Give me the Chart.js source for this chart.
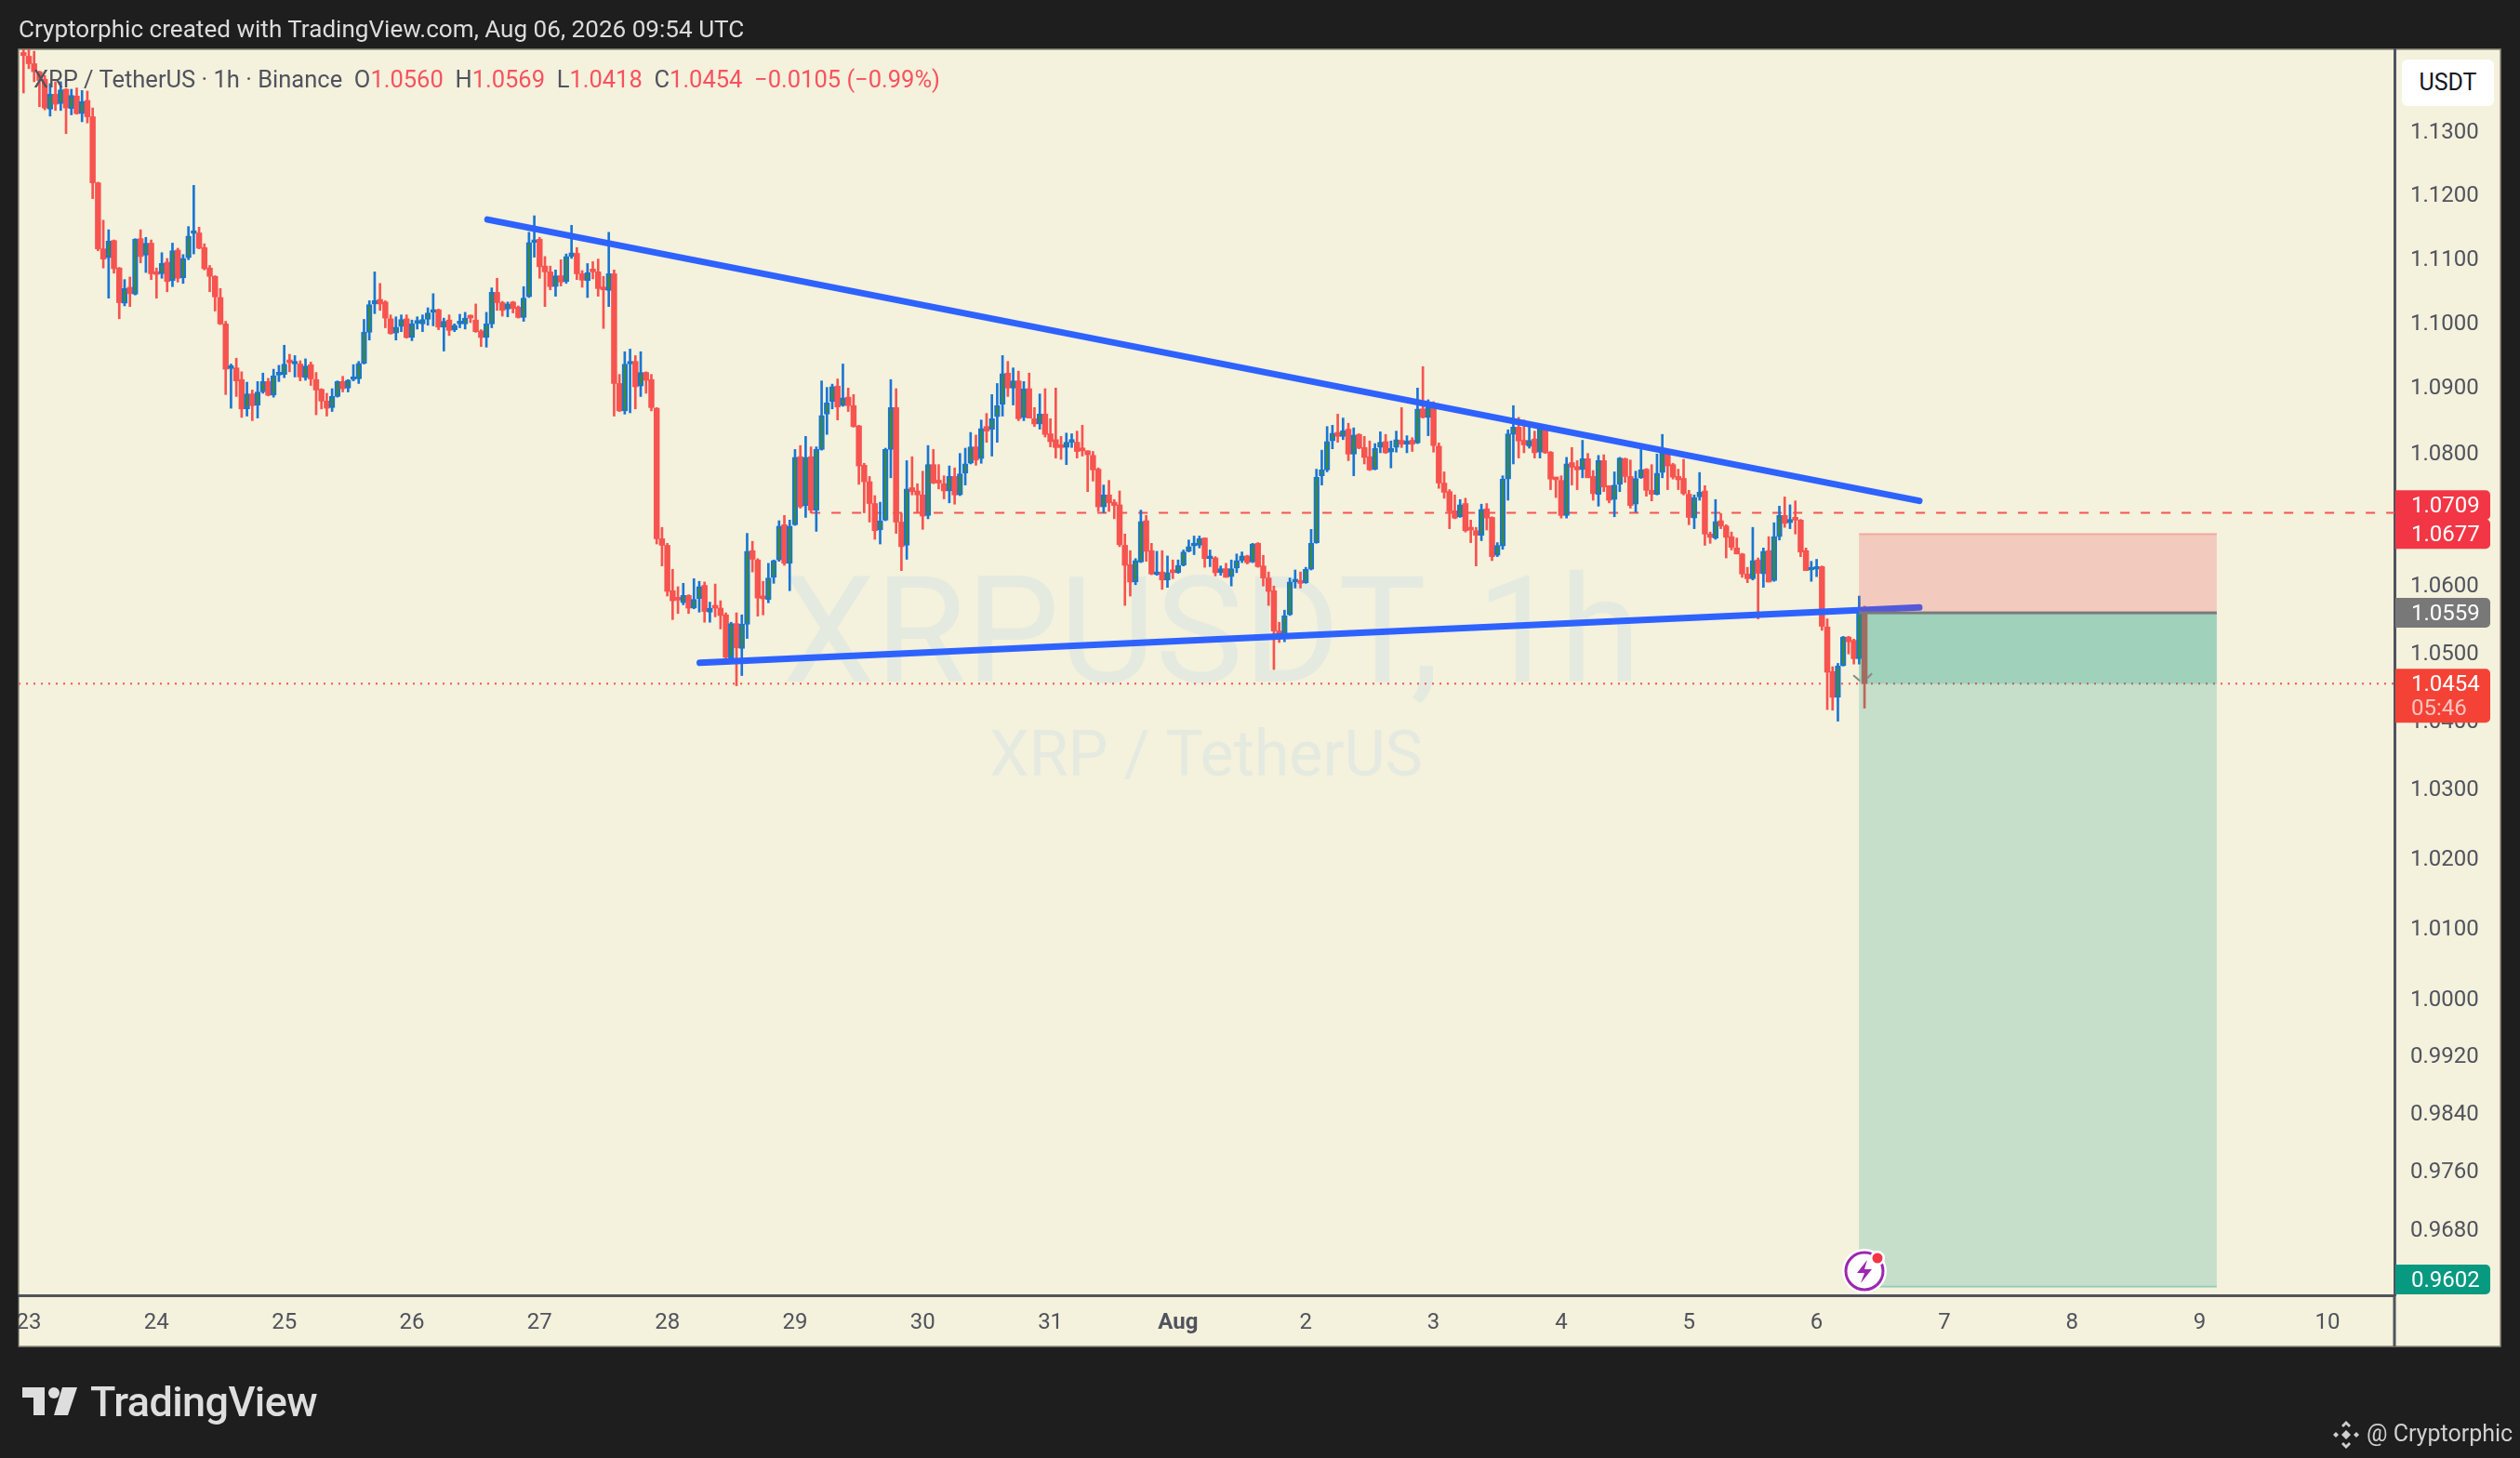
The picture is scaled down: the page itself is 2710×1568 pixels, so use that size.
<!DOCTYPE html>
<html>
<head>
<meta charset="utf-8">
<title>XRPUSDT 1h</title>
<script src="https://cdn.jsdelivr.net/npm/chart.js@4"></script>
<style>
  html, body { margin: 0; padding: 0; background: #1e1e1e; overflow: hidden; }
  #wrap { position: relative; width: 2710px; height: 1568px; font-family: Roboto, sans-serif; }
  #chart { position: absolute; left: 0; top: 0; }
  .txt { position: absolute; white-space: pre; line-height: 1; }
  #header { left: 20px; top: 18px; font-size: 26.1px; color: #dcdcdc; }
  #legend { left: 36px; top: 73px; font-size: 25.5px; color: #50535e; }
  #legend b { font-weight: 400; color: #f7525f; }
  #usdt { left: 2583px; top: 64px; width: 99px; height: 50px; line-height: 50px; text-align: center;
          background: #fff; border-radius: 6px; font-size: 25px; color: #131722; }
  #logotext { left: 97px; top: 1485px; font-size: 45px; font-weight: 500; color: #dedede; letter-spacing: -0.6px; }
  #author { left: 2545px; top: 1529px; font-size: 25px; color: #cfcfcf; }
  svg { position: absolute; }
</style>
</head>
<body>
<div id="wrap">
  <canvas id="chart" width="2710" height="1568"></canvas>
  <div class="txt" id="header">Cryptorphic created with TradingView.com, Aug 06, 2026 09:54 UTC</div>
  <div class="txt" id="legend">XRP / TetherUS · 1h · Binance  O<b>1.0560</b>  H<b>1.0569</b>  L<b>1.0418</b>  C<b>1.0454</b>  <b>−0.0105 (−0.99%)</b></div>
  <div class="txt" id="usdt">USDT</div>
  <!-- 트레이딩뷰 로고 -->
  <svg style="left:24px;top:1492px" width="60" height="30" viewBox="0 0 60 30">
    <path d="M0 0H24V30H12V11H0Z" fill="#dedede"/>
    <circle cx="34" cy="6" r="6" fill="#dedede"/>
    <path d="M43 0H59L49 30H34Z" fill="#dedede"/>
  </svg>
  <div class="txt" id="logotext">TradingView</div>
  <!-- 바이낸스 아이콘 -->
  <svg style="left:2509px;top:1528px" width="28" height="30" viewBox="0 0 28 30" fill="#cfcfcf">
    <path d="M14 0l5 5-2 2-3-3-3 3-2-2z"/><path d="M14 30l5-5-2-2-3 3-3-3-2 2z"/>
    <path d="M0 15l3-3 3 3-3 3z"/><path d="M22 15l3-3 3 3-3 3z"/><path d="M14 10l5 5-5 5-5-5z"/>
  </svg>
  <div class="txt" id="author">@ Cryptorphic</div>
  <!-- 번개 아이콘 -->
  <svg style="left:1980px;top:1340px" width="52" height="54" viewBox="0 0 52 54">
    <circle cx="25" cy="27" r="24" fill="#fff"/>
    <circle cx="25" cy="27" r="20" fill="#fff" stroke="#9c27b0" stroke-width="3"/>
    <path d="M28 15L17 29H25L21 40L33 25H25Z" fill="#9c27b0"/>
    <circle cx="39" cy="13" r="8" fill="#fff"/>
    <circle cx="39" cy="13" r="5.5" fill="#f23645"/>
  </svg>
</div>

<script>
// 1시간봉 데이터: 7월 23일 00시를 0으로 한 시간 인덱스 기준
const firstHour = -1;

const opens = [
  1.1427,1.1421,1.1409,1.1396,1.1384,1.1336,1.1360,1.1345,1.1368,1.1337,1.1357,
  1.1329,1.1350,1.1324,1.1219,1.1115,1.1101,1.1128,1.1085,1.1030,1.1055,
  1.1044,1.1131,1.1105,1.1124,1.1078,1.1076,1.1094,1.1065,1.1113,1.1070,
  1.1101,1.1139,1.1140,1.1117,1.1085,1.1072,1.1039,1.0998,1.0929,1.0930,
  1.0912,1.0867,1.0890,1.0873,1.0893,1.0909,1.0888,1.0919,1.0920,1.0940,
  1.0936,1.0936,1.0915,1.0935,1.0912,1.0897,1.0879,1.0869,1.0886,1.0909,
  1.0899,1.0912,1.0913,1.0937,1.0985,1.1029,1.1036,1.1032,1.1006,1.0984,
  1.0994,1.1006,1.0977,1.0999,1.0998,1.1005,1.1016,1.1020,1.0993,1.1004,
  1.0989,1.0998,1.0998,1.1008,1.1004,1.0987,1.0977,1.0998,1.1047,1.1031,
  1.1021,1.1032,1.1024,1.1008,1.1040,1.1125,1.1130,1.1088,1.1079,1.1056,
  1.1073,1.1064,1.1103,1.1108,1.1076,1.1065,1.1080,1.1079,1.1053,1.1050,
  1.1076,1.0906,1.0864,1.0936,1.0940,1.0902,1.0923,1.0912,1.0868,1.0670,
  1.0660,1.0592,1.0579,1.0574,1.0585,1.0566,1.0580,1.0600,1.0560,1.0568,
  1.0566,1.0556,1.0492,1.0543,1.0506,1.0542,1.0652,1.0638,1.0582,1.0579,
  1.0612,1.0638,1.0691,1.0633,1.0691,1.0794,1.0720,1.0794,1.0713,1.0805,
  1.0859,1.0878,1.0902,1.0872,1.0885,1.0872,1.0841,1.0781,1.0756,1.0723,
  1.0683,1.0698,1.0805,1.0869,1.0695,1.0660,1.0747,1.0742,1.0736,1.0705,
  1.0782,1.0756,1.0753,1.0742,1.0764,1.0736,1.0769,1.0784,1.0809,1.0791,
  1.0840,1.0836,1.0855,1.0874,1.0922,1.0899,1.0910,1.0854,1.0898,1.0852,
  1.0844,1.0859,1.0829,1.0820,1.0809,1.0808,1.0816,1.0816,1.0804,1.0803,
  1.0796,1.0775,1.0718,1.0736,1.0725,1.0721,1.0660,1.0631,1.0605,1.0635,
  1.0697,1.0652,1.0616,1.0620,1.0608,1.0621,1.0619,1.0630,1.0651,1.0659,
  1.0660,1.0671,1.0640,1.0641,1.0619,1.0625,1.0613,1.0626,1.0637,1.0644,
  1.0635,1.0663,1.0629,1.0611,1.0592,1.0532,1.0523,1.0556,1.0605,1.0607,
  1.0604,1.0624,1.0664,1.0765,1.0774,1.0818,1.0831,1.0825,1.0836,1.0798,
  1.0828,1.0808,1.0794,1.0775,1.0808,1.0817,1.0801,1.0808,1.0819,1.0813,
  1.0819,1.0815,1.0867,1.0854,1.0870,1.0810,1.0754,1.0741,1.0712,1.0703,
  1.0723,1.0684,1.0682,1.0675,1.0715,1.0702,1.0645,1.0659,1.0760,1.0828,
  1.0839,1.0819,1.0810,1.0821,1.0801,1.0839,1.0801,1.0760,1.0758,1.0705,
  1.0785,1.0779,1.0775,1.0791,1.0764,1.0737,1.0788,1.0750,1.0729,1.0752,
  1.0791,1.0764,1.0722,1.0762,1.0775,1.0743,1.0737,1.0770,1.0801,1.0782,
  1.0764,1.0761,1.0737,1.0701,1.0733,1.0742,1.0677,1.0671,1.0697,1.0689,
  1.0673,1.0656,1.0647,1.0617,1.0610,1.0638,1.0617,1.0652,1.0607,1.0673,
  1.0705,1.0694,1.0699,1.0698,1.0652,1.0623,1.0624,1.0628,1.0538,1.0472,
  1.0434,1.0481,1.0523,1.0518,1.0491,1.0560
];
const highs = [
  1.1442,1.1437,1.1429,1.1397,1.1390,1.1377,1.1380,1.1380,1.1369,1.1368,1.1370,
  1.1366,1.1365,1.1338,1.1220,1.1160,1.1145,1.1129,1.1086,1.1067,1.1071,
  1.1131,1.1145,1.1133,1.1129,1.1085,1.1109,1.1100,1.1124,1.1116,1.1106,
  1.1150,1.1215,1.1149,1.1123,1.1089,1.1073,1.1053,1.1002,1.0936,1.0945,
  1.0924,1.0908,1.0896,1.0909,1.0922,1.0914,1.0928,1.0934,1.0965,1.0951,
  1.0949,1.0941,1.0944,1.0939,1.0923,1.0898,1.0891,1.0898,1.0910,1.0917,
  1.0912,1.0935,1.0940,1.1005,1.1034,1.1079,1.1061,1.1034,1.1012,1.1009,
  1.1012,1.1012,1.1004,1.1009,1.1012,1.1023,1.1045,1.1021,1.1007,1.1012,
  1.0998,1.1013,1.1016,1.1012,1.1029,1.0989,1.1016,1.1054,1.1069,1.1033,
  1.1032,1.1033,1.1026,1.1056,1.1141,1.1167,1.1133,1.1103,1.1088,1.1082,
  1.1098,1.1107,1.1152,1.1117,1.1081,1.1092,1.1095,1.1099,1.1072,1.1141,
  1.1082,1.0920,1.0955,1.0959,1.0949,1.0955,1.0924,1.0920,1.0869,1.0687,
  1.0663,1.0624,1.0598,1.0603,1.0586,1.0610,1.0606,1.0605,1.0575,1.0602,
  1.0577,1.0559,1.0545,1.0559,1.0556,1.0678,1.0666,1.0640,1.0606,1.0633,
  1.0638,1.0697,1.0705,1.0698,1.0805,1.0811,1.0825,1.0809,1.0809,1.0910,
  1.0900,1.0905,1.0913,1.0936,1.0899,1.0889,1.0842,1.0784,1.0764,1.0735,
  1.0725,1.0807,1.0912,1.0898,1.0708,1.0788,1.0794,1.0753,1.0772,1.0811,
  1.0805,1.0782,1.0765,1.0780,1.0777,1.0799,1.0807,1.0831,1.0827,1.0850,
  1.0860,1.0889,1.0906,1.0949,1.0940,1.0930,1.0925,1.0909,1.0922,1.0869,
  1.0890,1.0898,1.0852,1.0899,1.0825,1.0830,1.0829,1.0833,1.0842,1.0803,
  1.0802,1.0777,1.0751,1.0758,1.0729,1.0742,1.0677,1.0652,1.0640,1.0713,
  1.0705,1.0663,1.0651,1.0652,1.0644,1.0638,1.0638,1.0653,1.0668,1.0674,
  1.0674,1.0671,1.0653,1.0643,1.0629,1.0633,1.0638,1.0647,1.0650,1.0645,
  1.0663,1.0664,1.0645,1.0620,1.0599,1.0545,1.0563,1.0611,1.0623,1.0620,
  1.0627,1.0684,1.0775,1.0804,1.0840,1.0842,1.0859,1.0853,1.0845,1.0838,
  1.0829,1.0825,1.0818,1.0814,1.0832,1.0828,1.0818,1.0833,1.0869,1.0826,
  1.0823,1.0899,1.0932,1.0881,1.0878,1.0815,1.0771,1.0744,1.0736,1.0729,
  1.0731,1.0698,1.0687,1.0722,1.0723,1.0703,1.0664,1.0765,1.0835,1.0872,
  1.0854,1.0850,1.0844,1.0833,1.0841,1.0842,1.0802,1.0761,1.0765,1.0793,
  1.0808,1.0788,1.0819,1.0799,1.0773,1.0796,1.0797,1.0750,1.0771,1.0793,
  1.0792,1.0789,1.0772,1.0805,1.0776,1.0782,1.0798,1.0828,1.0803,1.0784,
  1.0775,1.0790,1.0743,1.0736,1.0770,1.0750,1.0680,1.0729,1.0708,1.0691,
  1.0680,1.0671,1.0648,1.0627,1.0687,1.0641,1.0656,1.0673,1.0694,1.0719,
  1.0733,1.0721,1.0727,1.0699,1.0656,1.0636,1.0639,1.0629,1.0550,1.0479,
  1.0484,1.0524,1.0524,1.0520,1.0584,1.0569
];
const lows = [
  1.1362,1.1401,1.1380,1.1340,1.1335,1.1325,1.1334,1.1334,1.1297,1.1327,1.1328,
  1.1316,1.1314,1.1194,1.1112,1.1085,1.1038,1.1077,1.1006,1.1026,1.1025,
  1.1043,1.1093,1.1078,1.1067,1.1038,1.1069,1.1048,1.1056,1.1063,1.1061,
  1.1098,1.1107,1.1115,1.1082,1.1048,1.1018,1.0997,1.0889,1.0868,1.0886,
  1.0854,1.0856,1.0849,1.0853,1.0891,1.0887,1.0885,1.0909,1.0915,1.0924,
  1.0916,1.0910,1.0911,1.0903,1.0858,1.0867,1.0856,1.0863,1.0885,1.0893,
  1.0893,1.0910,1.0906,1.0936,1.0973,1.1014,1.1019,1.0992,1.0982,1.0973,
  1.0986,1.0976,1.0972,1.0990,1.0986,1.0996,1.0995,1.0989,1.0956,1.0980,
  1.0986,1.0992,1.0990,1.1000,1.0985,1.0963,1.0962,1.0992,1.1019,1.1010,
  1.1009,1.1015,1.1007,1.1002,1.1039,1.1102,1.1069,1.1025,1.1051,1.1041,
  1.1057,1.1061,1.1100,1.1067,1.1055,1.1039,1.1068,1.1041,1.0991,1.1025,
  1.0856,1.0863,1.0859,1.0861,1.0867,1.0886,1.0891,1.0864,1.0662,1.0629,
  1.0584,1.0549,1.0558,1.0571,1.0558,1.0565,1.0560,1.0545,1.0545,1.0553,
  1.0535,1.0486,1.0490,1.0451,1.0466,1.0521,1.0620,1.0554,1.0556,1.0574,
  1.0603,1.0636,1.0630,1.0592,1.0690,1.0716,1.0702,1.0709,1.0681,1.0804,
  1.0828,1.0867,1.0850,1.0871,1.0863,1.0839,1.0752,1.0709,1.0695,1.0669,
  1.0662,1.0697,1.0762,1.0678,1.0622,1.0639,1.0736,1.0709,1.0684,1.0700,
  1.0753,1.0745,1.0730,1.0724,1.0722,1.0735,1.0751,1.0783,1.0781,1.0784,
  1.0816,1.0795,1.0816,1.0856,1.0886,1.0873,1.0849,1.0849,1.0853,1.0840,
  1.0836,1.0824,1.0809,1.0792,1.0790,1.0782,1.0808,1.0792,1.0795,1.0741,
  1.0757,1.0711,1.0709,1.0711,1.0700,1.0658,1.0570,1.0584,1.0601,1.0634,
  1.0636,1.0616,1.0615,1.0594,1.0597,1.0610,1.0618,1.0629,1.0650,1.0646,
  1.0656,1.0627,1.0628,1.0614,1.0615,1.0612,1.0599,1.0619,1.0634,1.0632,
  1.0634,1.0627,1.0599,1.0570,1.0475,1.0515,1.0516,1.0555,1.0596,1.0596,
  1.0603,1.0623,1.0663,1.0751,1.0771,1.0806,1.0816,1.0820,1.0788,1.0765,
  1.0806,1.0783,1.0773,1.0774,1.0800,1.0799,1.0777,1.0801,1.0808,1.0800,
  1.0802,1.0814,1.0853,1.0826,1.0801,1.0746,1.0731,1.0685,1.0700,1.0702,
  1.0680,1.0664,1.0629,1.0667,1.0683,1.0637,1.0643,1.0654,1.0728,1.0783,
  1.0792,1.0800,1.0807,1.0792,1.0792,1.0799,1.0744,1.0732,1.0701,1.0701,
  1.0751,1.0744,1.0762,1.0762,1.0728,1.0719,1.0741,1.0724,1.0703,1.0741,
  1.0755,1.0716,1.0710,1.0761,1.0734,1.0727,1.0736,1.0762,1.0744,1.0760,
  1.0744,1.0736,1.0691,1.0685,1.0728,1.0660,1.0663,1.0669,1.0685,1.0641,
  1.0653,1.0647,1.0612,1.0604,1.0608,1.0550,1.0597,1.0605,1.0606,1.0668,
  1.0687,1.0685,1.0677,1.0643,1.0622,1.0606,1.0613,1.0533,1.0416,1.0415,
  1.0399,1.0480,1.0498,1.0483,1.0483,1.0418
];
const closes = [
  1.1422,1.1409,1.1396,1.1382,1.1338,1.1360,1.1344,1.1367,1.1338,1.1358,1.1329,
  1.1348,1.1324,1.1219,1.1115,1.1099,1.1127,1.1084,1.1031,1.1053,1.1045,
  1.1130,1.1103,1.1124,1.1076,1.1075,1.1092,1.1064,1.1112,1.1069,1.1100,
  1.1135,1.1140,1.1116,1.1084,1.1072,1.1040,1.0998,1.0928,1.0930,1.0910,
  1.0867,1.0890,1.0872,1.0893,1.0909,1.0888,1.0918,1.0920,1.0936,1.0938,
  1.0937,1.0916,1.0933,1.0913,1.0896,1.0879,1.0868,1.0886,1.0909,1.0898,
  1.0911,1.0915,1.0937,1.0985,1.1028,1.1034,1.1029,1.1007,1.0983,1.0993,
  1.1005,1.0977,1.0998,1.1000,1.1005,1.1015,1.1020,1.0993,1.1002,1.0988,
  1.0996,1.1000,1.1007,1.1007,1.0986,1.0977,1.0998,1.1047,1.1031,1.1019,
  1.1029,1.1022,1.1008,1.1038,1.1125,1.1129,1.1087,1.1079,1.1056,1.1073,
  1.1063,1.1103,1.1109,1.1076,1.1066,1.1078,1.1079,1.1053,1.1051,1.1076,
  1.0906,1.0864,1.0936,1.0939,1.0901,1.0923,1.0911,1.0869,1.0670,1.0660,
  1.0591,1.0577,1.0578,1.0585,1.0566,1.0579,1.0598,1.0561,1.0566,1.0566,
  1.0555,1.0493,1.0543,1.0507,1.0542,1.0651,1.0639,1.0581,1.0580,1.0611,
  1.0637,1.0689,1.0633,1.0689,1.0793,1.0718,1.0793,1.0713,1.0805,1.0857,
  1.0876,1.0901,1.0870,1.0884,1.0872,1.0840,1.0780,1.0756,1.0723,1.0682,
  1.0697,1.0805,1.0869,1.0695,1.0658,1.0745,1.0741,1.0736,1.0704,1.0782,
  1.0754,1.0754,1.0742,1.0764,1.0736,1.0768,1.0783,1.0809,1.0789,1.0837,
  1.0833,1.0852,1.0872,1.0921,1.0899,1.0910,1.0852,1.0898,1.0853,1.0844,
  1.0859,1.0828,1.0817,1.0808,1.0808,1.0816,1.0818,1.0802,1.0803,1.0797,
  1.0774,1.0718,1.0736,1.0724,1.0720,1.0661,1.0630,1.0605,1.0637,1.0696,
  1.0651,1.0617,1.0619,1.0608,1.0619,1.0619,1.0630,1.0650,1.0658,1.0660,
  1.0670,1.0640,1.0642,1.0619,1.0625,1.0612,1.0625,1.0637,1.0644,1.0634,
  1.0662,1.0628,1.0611,1.0591,1.0532,1.0523,1.0555,1.0605,1.0607,1.0603,
  1.0624,1.0663,1.0763,1.0774,1.0817,1.0830,1.0825,1.0834,1.0798,1.0827,
  1.0807,1.0793,1.0774,1.0807,1.0816,1.0800,1.0807,1.0820,1.0813,1.0818,
  1.0813,1.0867,1.0854,1.0869,1.0811,1.0754,1.0740,1.0711,1.0701,1.0721,
  1.0682,1.0683,1.0675,1.0714,1.0701,1.0643,1.0660,1.0760,1.0829,1.0839,
  1.0818,1.0812,1.0819,1.0800,1.0838,1.0800,1.0760,1.0759,1.0705,1.0783,
  1.0778,1.0774,1.0791,1.0762,1.0738,1.0788,1.0748,1.0728,1.0751,1.0792,
  1.0764,1.0720,1.0761,1.0774,1.0743,1.0737,1.0769,1.0800,1.0780,1.0763,
  1.0759,1.0738,1.0702,1.0732,1.0740,1.0677,1.0672,1.0696,1.0689,1.0672,
  1.0657,1.0647,1.0617,1.0610,1.0637,1.0618,1.0651,1.0605,1.0673,1.0705,
  1.0693,1.0699,1.0698,1.0650,1.0622,1.0624,1.0626,1.0539,1.0471,1.0434,
  1.0480,1.0523,1.0516,1.0491,1.0559,1.0454
];

// 축 눈금
const dayHours = [0,24,48,72,96,120,144,168,192,216,240,264,288,312,336,360,384,408,432];
const dayLabels = ['23','24','25','26','27','28','29','30','31','Aug','2','3','4','5','6','7','8','9','10'];
const priceTicks = [1.13,1.12,1.11,1.10,1.09,1.08,1.06,1.05,1.04,1.03,1.02,1.01,1.00,0.992,0.984,0.976,0.968];

// 추세선, 수평선 (시간 인덱스, 가격)
const upperTrendHours = [86.2, 355.3];
const upperTrendPrices = [1.1161, 1.0727];
const lowerTrendHours = [126.1, 355.3];
const lowerTrendPrices = [1.0485, 1.0567];
const dashedPrice = 1.0709;
const dashedStartHour = 147.0;
const lastPrice = 1.0454;

// 포지션 박스
const positionHours = [343.97, 411.2];
const stopPrice = 1.0677;
const entryPrice = 1.0559;
const targetPrice = 0.9602;

// 가격 태그
const tagPrices = [1.0709, 1.0677, 1.0559, 0.9602];
const tagTexts = ['1.0709', '1.0677', '1.0559', '0.9602'];
const countdown = '05:46';

const X_MIN = -1.92, X_MAX = 444.6;
const Y_MIN = 0.95904, Y_MAX = 1.14322;
const UP_BORDER = '#1976d2', UP_FILL = '#3c8a3a', DOWN = '#f7534f';
const DARK = '#1e1e1e', CREAM = '#f4f1dc', AXIS = '#50535e';

const isUp = i => closes[i] >= opens[i];

const wickData = highs.map((h, i) => ({ x: firstHour + i, y: [lows[i], h] }));
const bodyData = opens.map((o, i) => ({ x: firstHour + i, y: [Math.min(o, closes[i]), Math.max(o, closes[i])] }));

const toPoints = (xs, ys) => xs.map((x, i) => ({ x: x, y: ys[i] }));

// 배경, 워터마크, 포지션 박스, 가격 태그
const tvPlugin = {
  id: 'tv',
  beforeDraw(chart) {
    const c = chart.ctx;
    c.save();
    c.fillStyle = DARK;
    c.fillRect(0, 0, chart.width, chart.height);
    c.fillStyle = CREAM;
    c.fillRect(20, 53, 2669, 1395);
    c.strokeStyle = '#8a8a7c';
    c.lineWidth = 1.5;
    c.strokeRect(20, 53, 2669, 1395);
    c.restore();
  },
  beforeDatasetsDraw(chart) {
    const c = chart.ctx;
    c.save();
    c.textAlign = 'center';
    c.textBaseline = 'alphabetic';
    c.fillStyle = '#e4eae0';
    c.font = '400 159px Roboto';
    c.fillText('XRPUSDT, 1h', 1303, 733);
    c.font = '400 68px Roboto';
    c.fillText('XRP / TetherUS', 1297, 834);
    c.restore();
  },
  afterDatasetsDraw(chart) {
    const c = chart.ctx, xs = chart.scales.x, ys = chart.scales.y;
    const l = xs.getPixelForValue(positionHours[0]), r = xs.getPixelForValue(positionHours[1]);
    const top = ys.getPixelForValue(stopPrice), entry = ys.getPixelForValue(entryPrice);
    const last = ys.getPixelForValue(lastPrice), bottom = ys.getPixelForValue(targetPrice);
    c.save();
    c.fillStyle = 'rgba(242,54,69,0.2)';
    c.fillRect(l, top, r - l, entry - top);
    c.fillStyle = 'rgba(8,153,129,0.2)';
    c.fillRect(l, entry, r - l, bottom - entry);
    c.fillRect(l, entry, r - l, last - entry);
    c.fillStyle = 'rgba(242,54,69,0.3)';
    c.fillRect(l, top - 1, r - l, 2);
    c.fillStyle = 'rgba(8,153,129,0.3)';
    c.fillRect(l, bottom - 1, r - l, 2);
    c.fillStyle = '#787b7b';
    c.fillRect(l, entry - 1.5, r - l, 3);
    // 마지막 봉 위 화살표 표시
    const ax = xs.getPixelForValue(345);
    c.strokeStyle = '#888';
    c.lineWidth = 2;
    c.beginPath();
    c.moveTo(ax - 12, last - 9); c.lineTo(ax - 5, last - 3);
    c.moveTo(ax + 3, last - 6); c.lineTo(ax + 8, last - 11);
    c.stroke();
    c.restore();
  },
  afterDraw(chart) {
    const c = chart.ctx, ys = chart.scales.y, a = chart.chartArea;
    c.save();
    // 패널 왼쪽 바깥을 덮어 23 라벨을 자른다
    c.fillStyle = DARK;
    c.fillRect(0, a.bottom, 19.5, 60);
    c.fillStyle = AXIS;
    c.fillRect(a.right - 1.5, a.bottom, 3, 55);

    c.font = '24px Roboto';
    c.textBaseline = 'middle';
    c.textAlign = 'left';
    const colors = ['#f23645', '#f23645', '#787878', '#089981'];
    // 겹치지 않도록 태그를 위로 밀어 그린다
    const centers = tagPrices.map(p => ys.getPixelForValue(p));
    centers[0] = Math.min(centers[0], centers[1] - 31);
    centers[3] = Math.min(centers[3], a.bottom - 17);
    tagPrices.forEach((p, i) => {
      c.fillStyle = colors[i];
      c.beginPath();
      c.roundRect(a.right + 1, centers[i] - 16, 102, 32, [0, 5, 5, 0]);
      c.fill();
      c.fillStyle = '#fff';
      c.fillText(tagTexts[i], a.right + 18, centers[i] + 2);
    });
    const lastY = ys.getPixelForValue(lastPrice);
    c.fillStyle = '#f44336';
    c.beginPath();
    c.roundRect(a.right + 1, lastY - 16, 102, 58, [0, 5, 5, 0]);
    c.fill();
    c.fillStyle = '#fff';
    c.fillText(lastPrice.toFixed(4), a.right + 18, lastY + 2);
    c.fillStyle = '#fbc4bf';
    c.fillText(countdown, a.right + 18, lastY + 28);
    c.restore();
  }
};

new Chart(document.getElementById('chart').getContext('2d'), {
  type: 'bar',
  data: {
    datasets: [
      {
        label: 'trendUpper', type: 'line', order: 0,
        data: toPoints(upperTrendHours, upperTrendPrices),
        borderColor: '#2e62ff', borderWidth: 7, borderCapStyle: 'round',
        pointRadius: 0, tension: 0
      },
      {
        label: 'trendLower', type: 'line', order: 0,
        data: toPoints(lowerTrendHours, lowerTrendPrices),
        borderColor: '#2e62ff', borderWidth: 7, borderCapStyle: 'round',
        pointRadius: 0, tension: 0
      },
      {
        label: 'body', order: 1, data: bodyData, grouped: false,
        barThickness: 5.8, minBarLength: 3, borderSkipped: false,
        backgroundColor: ctx => isUp(ctx.dataIndex) ? UP_FILL : DOWN,
        borderColor: ctx => isUp(ctx.dataIndex) ? UP_BORDER : DOWN,
        borderWidth: ctx => isUp(ctx.dataIndex) ? 2 : 0
      },
      {
        label: 'wick', order: 2, data: wickData, grouped: false,
        barThickness: 2,
        backgroundColor: ctx => isUp(ctx.dataIndex) ? UP_BORDER : DOWN
      },
      {
        label: 'high', type: 'line', order: 3,
        data: toPoints([dashedStartHour, X_MAX], [dashedPrice, dashedPrice]),
        borderColor: DOWN, borderWidth: 2, borderDash: [10, 12], pointRadius: 0
      },
      {
        label: 'last', type: 'line', order: 3,
        data: toPoints([X_MIN, X_MAX], [lastPrice, lastPrice]),
        borderColor: DOWN, borderWidth: 2, borderDash: [2, 6], pointRadius: 0
      }
    ]
  },
  options: {
    responsive: false,
    devicePixelRatio: 1,
    animation: false,
    layout: { padding: { left: 20, top: 53, right: 21, bottom: 120 } },
    plugins: { legend: { display: false }, tooltip: { enabled: false } },
    datasets: { bar: { grouped: false } },
    scales: {
      x: {
        type: 'linear',
        offset: false,
        min: X_MIN,
        max: X_MAX,
        grid: { display: false, offset: false, drawTicks: false },
        border: { display: true, color: AXIS, width: 3 },
        afterBuildTicks: s => { s.ticks = dayHours.map(v => ({ value: v })); },
        afterFit: s => { s.height = 55; },
        ticks: {
          autoSkip: false,
          maxRotation: 0,
          padding: 16,
          color: AXIS,
          font: ctx => ({ size: 24, family: 'Roboto', weight: ctx.index === 9 ? 'bold' : 'normal' }),
          callback: (v, i) => dayLabels[i]
        }
      },
      y: {
        type: 'logarithmic',
        position: 'right',
        bounds: 'data',
        min: Y_MIN,
        max: Y_MAX,
        grid: { display: false, drawTicks: false },
        border: { display: true, color: AXIS, width: 3 },
        afterBuildTicks: s => { s.ticks = priceTicks.map(v => ({ value: v })); },
        afterFit: s => { s.width = 114; },
        ticks: {
          autoSkip: false,
          crossAlign: 'center',
          padding: 17,
          color: AXIS,
          // 빈 첫 줄로 라벨을 2px 정도 아래로 내린다
          font: { size: 24, family: 'Roboto', lineHeight: '3.4px' },
          callback: v => ['', v.toFixed(4)]
        }
      }
    }
  },
  plugins: [tvPlugin]
});
</script>
</body>
</html>
